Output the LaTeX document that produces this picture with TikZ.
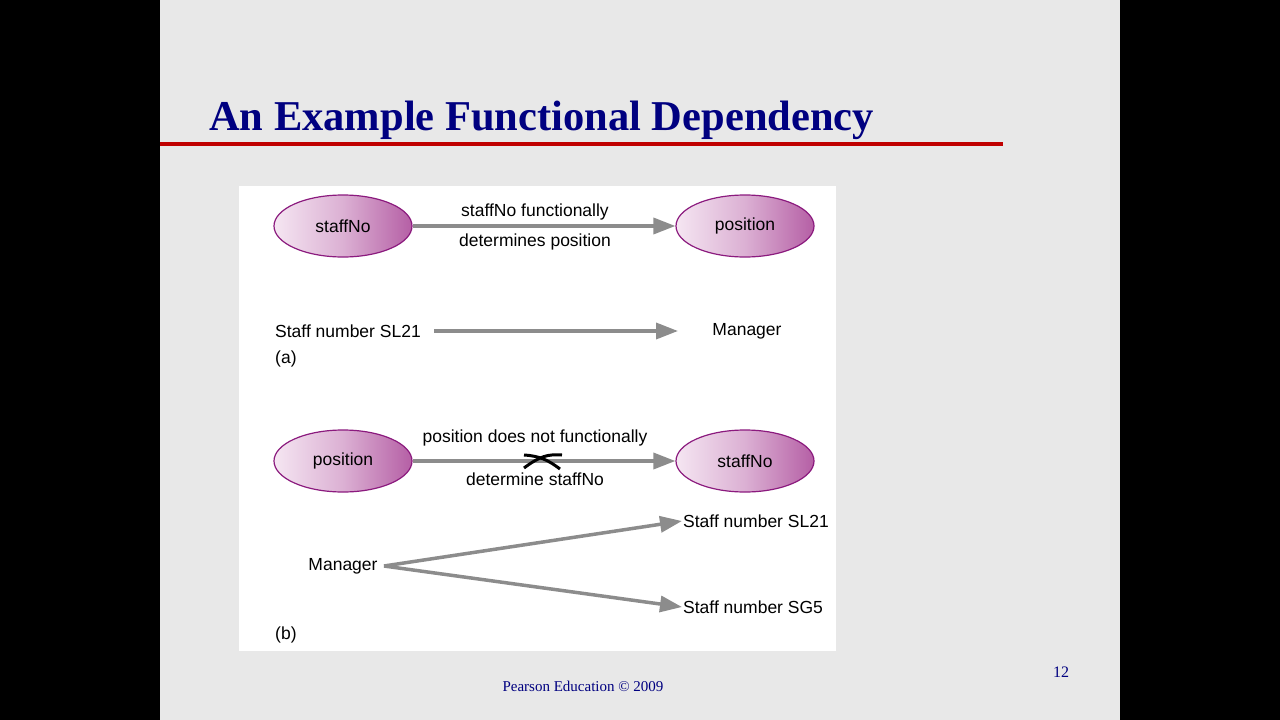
\documentclass[tikz,border=0pt]{standalone}
\usepackage{fontspec}
\setmainfont{Liberation Serif}
\newfontfamily\sff{Liberation Sans}
\usetikzlibrary{shapes.geometric,arrows.meta}
\definecolor{navy}{HTML}{000080}
\definecolor{redline}{HTML}{C00000}
\definecolor{ellb}{HTML}{8B1A7E}
\definecolor{ello}{HTML}{B55FA5}
\definecolor{elli}{HTML}{F5E6F2}
\definecolor{arr}{HTML}{8C8C8C}
\begin{document}
\begin{tikzpicture}[x=1pt,y=-1pt,
  ell/.style={ellipse,draw=ellb,line width=1.2pt,minimum width=138pt,minimum height=62pt,left color=elli,right color=ello,middle color=elli!60!ello,font=\sff\fontsize{17.5}{20}\selectfont},
  lab/.style={font=\sff\fontsize{17.5}{20}\selectfont,inner sep=1pt},
  ga/.style={draw=arr,line width=3.5pt,-{Triangle[length=22pt,width=16pt]},shorten >=0pt}]
\useasboundingbox (0,0) rectangle (1280,720);
\fill[black] (0,0) rectangle (1280,720);
\fill[black!9] (160,0) rectangle (1120,720);
\node[font=\bfseries\fontsize{42.5}{48}\selectfont,text=navy,anchor=base west,inner sep=0] (title) at (209,130) {An Example Functional Dependency};
\draw[redline,line width=3.5pt] (160,144) -- (1003,144);
\fill[white] (239,186) rectangle (836,651);
\node[ell] (s1) at (343,226) {staffNo};
\node[ell] (p1) at (745,226) {position};
\draw[ga] (s1) -- (p1);
\node[lab] (t1) at (535,212) {staffNo functionally};
\node[lab] (t2) at (535,242) {determines position};
\node[lab,anchor=west] (sl) at (274,331) {Staff number SL21};
\node[lab] (mg) at (747,331) {Manager};
\coordinate (a1) at (434,331);
\coordinate (a2) at (678,331);
\draw[ga] (a1) -- (a2);
\node[lab,anchor=west] (la) at (274,359) {(a)};
\node[ell] (p2) at (343,461) {position};
\node[ell] (s2) at (745,461) {staffNo};
\draw[ga] (p2) -- (s2);
\node[lab] (t3) at (535,438) {position does not functionally};
\node[lab] (t4) at (535,479) {determine staffNo};
\draw[black,line width=3pt] (524,468) .. controls (540,456) and (548,454) .. (562,455);
\draw[black,line width=3pt] (524,455) .. controls (540,456) and (548,460) .. (560,469);
\node[lab] (m2) at (343,566) {Manager};
\node[lab,anchor=west] (x1) at (682,521) {Staff number SL21};
\node[lab,anchor=west] (x2) at (682,607) {Staff number SG5};
\coordinate (o) at (384,566);
\draw[ga] (o) -- (x1.west);
\draw[ga] (o) -- (x2.west);
\node[lab,anchor=west] (lb) at (274,635) {(b)};
\node[font=\fontsize{15}{17}\selectfont,text=navy] (ft) at (583,686) {Pearson Education \copyright\ 2009};
\node[font=\fontsize{16}{18}\selectfont,text=navy] (pg) at (1061,672) {12};
\end{tikzpicture}
\end{document}
